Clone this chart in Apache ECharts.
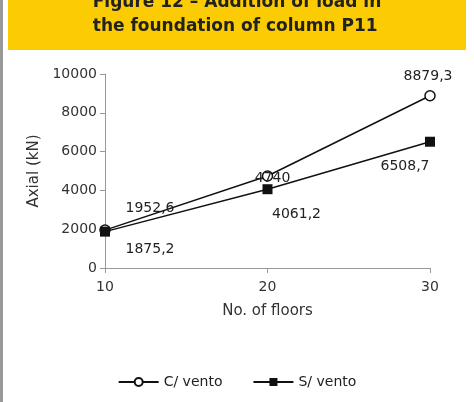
<!DOCTYPE html>
<html><head><meta charset="utf-8">
<script src="https://cdn.jsdelivr.net/npm/echarts@6/dist/echarts.min.js"></script>
<style>body{margin:0;background:#fff}#c{width:474px;height:402px}</style>
</head><body><div id="c"></div>
<script>
var floors = [10, 20, 30];
var comVento = [1952.6, 4740, 8879.3];
var semVento = [1875.2, 4061.2, 6508.7];
var comLabels = ['1952,6', '4740', '8879,3'];
var semLabels = ['1875,2', '4061,2', '6508,7'];

var chart = echarts.init(document.getElementById('c'));
var font = 'DejaVu Sans';

function pts(vals) {
  return vals.map(function (v, i) { return [floors[i], v]; });
}

chart.setOption({
  animation: false,
  textStyle: { fontFamily: font },
  graphic: [
    { type: 'rect', shape: { x: 0, y: 0, width: 3, height: 402 }, style: { fill: '#999' } },
    { type: 'rect', shape: { x: 8, y: 0, width: 458, height: 50 }, style: { fill: '#fbcb04' } },
    { type: 'text', left: 'center', top: -9, style: { text: 'Figure 12 – Addition of load in\nthe foundation of column P11', fill: '#222', font: 'bold 17px ' + font, lineHeight: 24, align: 'center' } }
  ],
  grid: { left: 105, right: 44, top: 74, bottom: 134 },
  xAxis: {
    type: 'value', min: 10, max: 30, interval: 10,
    name: 'No. of floors', nameLocation: 'middle', nameGap: 36,
    nameTextStyle: { fontSize: 15, color: '#333' },
    axisLine: { lineStyle: { color: '#999' } },
    axisTick: { show: true, length: 5, lineStyle: { color: '#999' } },
    axisLabel: { fontSize: 14, color: '#333', margin: 12 },
    splitLine: { show: false }
  },
  yAxis: {
    type: 'value', min: 0, max: 10000, interval: 2000,
    name: 'Axial (kN)', nameLocation: 'middle', nameGap: 58,
    nameTextStyle: { fontSize: 15, color: '#333' },
    axisLine: { show: true, lineStyle: { color: '#999' } },
    axisTick: { show: true, length: 5, lineStyle: { color: '#999' } },
    axisLabel: { fontSize: 14, color: '#333', formatter: function (v) { return String(v); } },
    splitLine: { show: false }
  },
  legend: {
    bottom: 8, left: 'center', itemWidth: 40, itemHeight: 10, itemGap: 30,
    textStyle: { fontSize: 14, color: '#222' },
    data: ['C/ vento', 'S/ vento']
  },
  series: [
    {
      name: 'C/ vento', type: 'line', data: pts(comVento),
      symbol: 'circle', symbolSize: 10,
      lineStyle: { color: '#111', width: 1.5 },
      itemStyle: { color: '#fff', borderColor: '#111', borderWidth: 1.5 },
      label: {
        show: true, fontSize: 14, color: '#222',
        formatter: function (p) { return comLabels[p.dataIndex]; }
      },
      labelLayout: function (p) {
        var offs = [[45, -4], [5, 20], [-2, -2]];
        var o = offs[p.dataIndex];
        return { dx: o[0], dy: o[1] };
      }
    },
    {
      name: 'S/ vento', type: 'line', data: pts(semVento),
      symbol: 'rect', symbolSize: 10,
      lineStyle: { color: '#111', width: 1.5 },
      itemStyle: { color: '#111' },
      label: {
        show: true, fontSize: 14, color: '#222',
        formatter: function (p) { return semLabels[p.dataIndex]; }
      },
      labelLayout: function (p) {
        var offs = [[45, 35], [29, 42], [-25, 42]];
        var o = offs[p.dataIndex];
        return { dx: o[0], dy: o[1] };
      }
    }
  ]
});
</script></body></html>
